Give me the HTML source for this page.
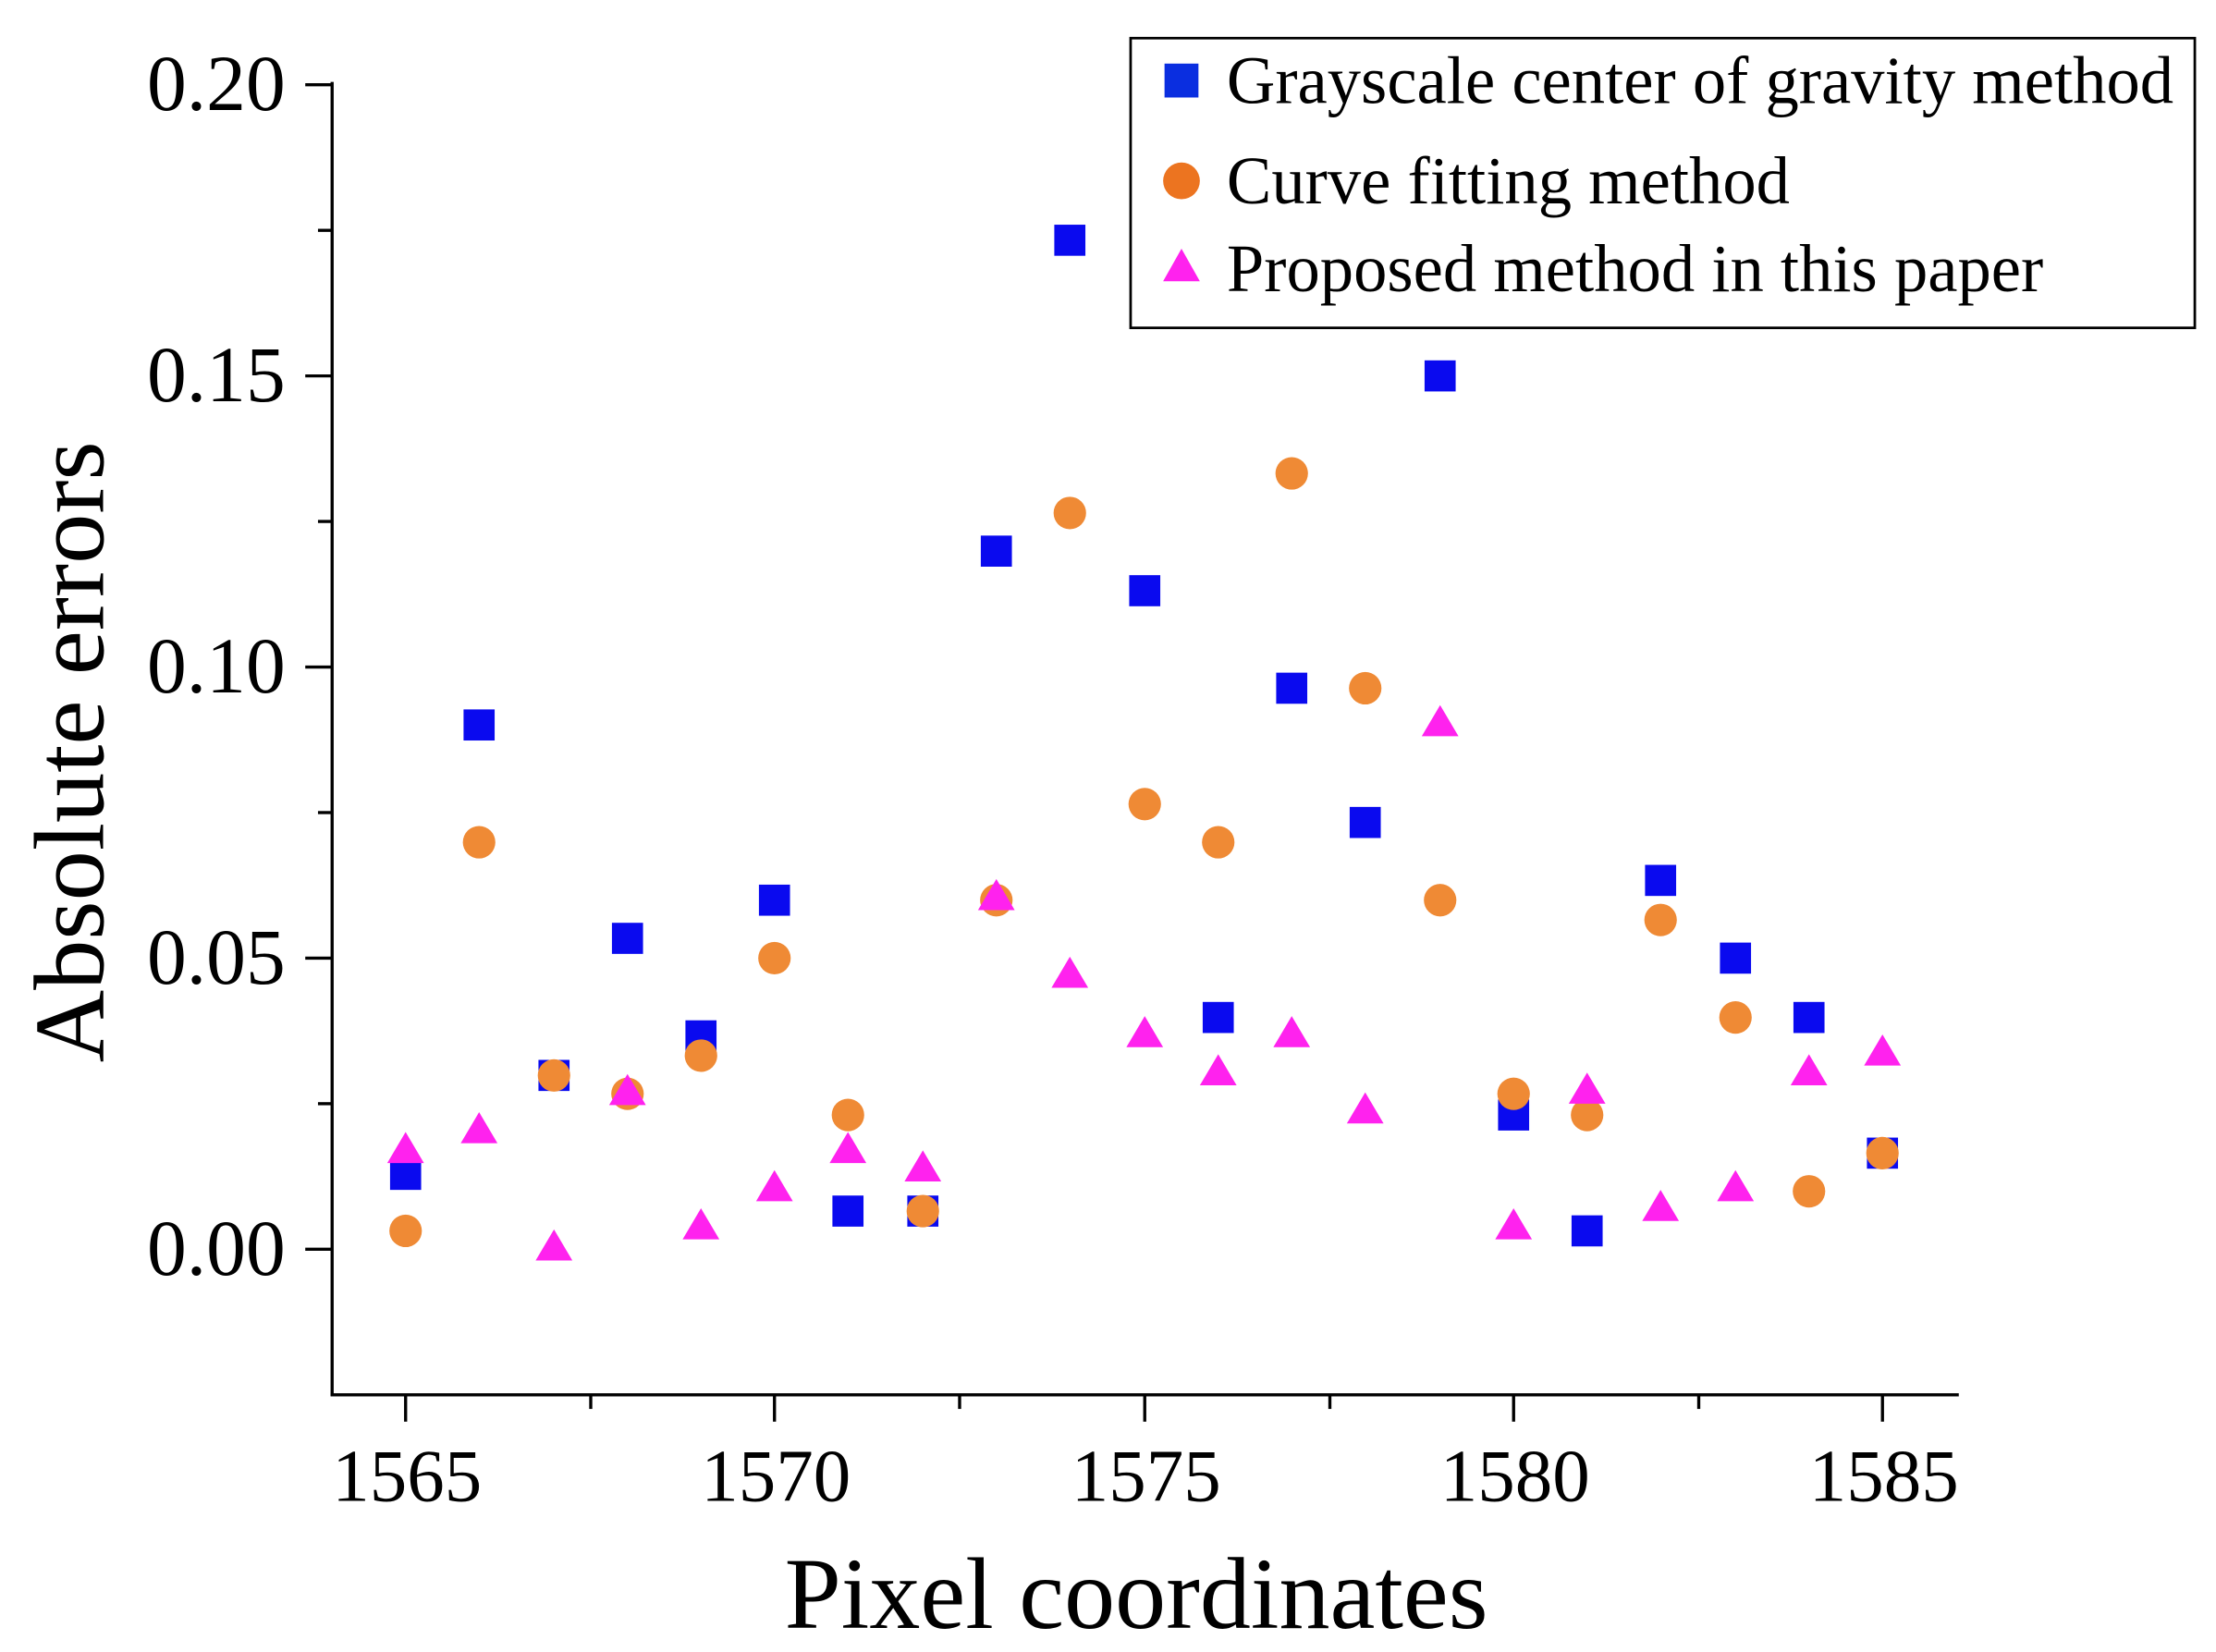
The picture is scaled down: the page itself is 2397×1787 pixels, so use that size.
<!DOCTYPE html>
<html><head><meta charset="utf-8"><style>html,body{margin:0;padding:0;background:#fff}svg{display:block}</style></head>
<body>
<svg width="2397" height="1787" viewBox="0 0 1568 1169" preserveAspectRatio="none" xmlns="http://www.w3.org/2000/svg" font-family="Liberation Serif, serif">
<rect width="1568" height="1169" fill="#fff"/>
<g stroke="#000" stroke-width="2.2" fill="none">
<line x1="235" y1="58" x2="235" y2="988"/>
<line x1="234" y1="987" x2="1386" y2="987"/>
<line x1="216" y1="60" x2="235" y2="60"/><line x1="216" y1="266" x2="235" y2="266"/><line x1="216" y1="472" x2="235" y2="472"/><line x1="216" y1="678" x2="235" y2="678"/><line x1="216" y1="884" x2="235" y2="884"/>
<line x1="225" y1="163" x2="235" y2="163"/><line x1="225" y1="369" x2="235" y2="369"/><line x1="225" y1="575" x2="235" y2="575"/><line x1="225" y1="781" x2="235" y2="781"/>
<line x1="287" y1="987" x2="287" y2="1006"/><line x1="548" y1="987" x2="548" y2="1006"/><line x1="810" y1="987" x2="810" y2="1006"/><line x1="1071" y1="987" x2="1071" y2="1006"/><line x1="1332" y1="987" x2="1332" y2="1006"/>
<line x1="418" y1="987" x2="418" y2="997"/><line x1="679" y1="987" x2="679" y2="997"/><line x1="941" y1="987" x2="941" y2="997"/><line x1="1202" y1="987" x2="1202" y2="997"/>
</g>
<g font-size="56" text-anchor="end" fill="#000">
<text x="202" y="78">0.20</text><text x="202" y="284">0.15</text><text x="202" y="490">0.10</text><text x="202" y="696">0.05</text><text x="202" y="902">0.00</text>
</g>
<g font-size="53" text-anchor="middle" fill="#000">
<text x="288" y="1062">1565</text><text x="549" y="1062">1570</text><text x="811" y="1062">1575</text><text x="1072" y="1062">1580</text><text x="1333" y="1062">1585</text>
</g>
<text x="804" y="1152" font-size="72" text-anchor="middle">Pixel coordinates</text>
<text transform="translate(73,532) rotate(-90)" font-size="71" text-anchor="middle">Absolute errors</text>
<g fill="#0a0aef">
<rect x="276" y="820" width="22" height="22"/><rect x="328" y="502" width="22" height="22"/><rect x="381" y="750" width="22" height="22"/><rect x="433" y="653" width="22" height="22"/><rect x="485" y="722" width="22" height="22"/><rect x="537" y="626" width="22" height="22"/><rect x="589" y="846" width="22" height="22"/><rect x="642" y="846" width="22" height="22"/><rect x="694" y="379" width="22" height="22"/><rect x="746" y="159" width="22" height="22"/><rect x="799" y="407" width="22" height="22"/><rect x="851" y="709" width="22" height="22"/><rect x="903" y="476" width="22" height="22"/><rect x="955" y="571" width="22" height="22"/><rect x="1008" y="255" width="22" height="22"/><rect x="1060" y="778" width="22" height="22"/><rect x="1112" y="860" width="22" height="22"/><rect x="1164" y="612" width="22" height="22"/><rect x="1217" y="667" width="22" height="22"/><rect x="1269" y="709" width="22" height="22"/><rect x="1321" y="805" width="22" height="22"/>
</g>
<g fill="#ef8a35">
<circle cx="287" cy="871" r="11.5"/><circle cx="339" cy="596" r="11.5"/><circle cx="392" cy="761" r="11.5"/><circle cx="444" cy="774" r="11.5"/><circle cx="496" cy="747" r="11.5"/><circle cx="548" cy="678" r="11.5"/><circle cx="600" cy="789" r="11.5"/><circle cx="653" cy="857" r="11.5"/><circle cx="705" cy="637" r="11.5"/><circle cx="757" cy="363" r="11.5"/><circle cx="810" cy="569" r="11.5"/><circle cx="862" cy="596" r="11.5"/><circle cx="914" cy="335" r="11.5"/><circle cx="966" cy="487" r="11.5"/><circle cx="1019" cy="637" r="11.5"/><circle cx="1071" cy="774" r="11.5"/><circle cx="1123" cy="789" r="11.5"/><circle cx="1175" cy="651" r="11.5"/><circle cx="1228" cy="720" r="11.5"/><circle cx="1280" cy="843" r="11.5"/><circle cx="1332" cy="816" r="11.5"/>
</g>
<g fill="#ff22ee">
<path d="M287 801l13 22h-26z"/><path d="M339 787l13 22h-26z"/><path d="M392 870l13 22h-26z"/><path d="M444 760l13 22h-26z"/><path d="M496 855l13 22h-26z"/><path d="M548 828l13 22h-26z"/><path d="M600 801l13 22h-26z"/><path d="M653 814l13 22h-26z"/><path d="M705 622l13 22h-26z"/><path d="M757 677l13 22h-26z"/><path d="M810 719l13 22h-26z"/><path d="M862 746l13 22h-26z"/><path d="M914 719l13 22h-26z"/><path d="M966 773l13 22h-26z"/><path d="M1019 499l13 22h-26z"/><path d="M1071 855l13 22h-26z"/><path d="M1123 759l13 22h-26z"/><path d="M1175 842l13 22h-26z"/><path d="M1228 828l13 22h-26z"/><path d="M1280 746l13 22h-26z"/><path d="M1332 732l13 22h-26z"/>
</g>
<rect x="800" y="27" width="753" height="205" fill="#fff" stroke="#000" stroke-width="1.8"/>
<rect x="824" y="45" width="24" height="24" fill="#0a2ee0"/>
<circle cx="836" cy="128" r="13" fill="#ec7420"/>
<path d="M836 176l13 23h-26z" fill="#ff22ee"/>
<g font-size="47.5" fill="#000">
<text x="868" y="73">Grayscale center of gravity method</text>
<text x="868" y="144">Curve fitting method</text>
<text x="868" y="206">Proposed method in this paper</text>
</g>
</svg>
</body></html>
